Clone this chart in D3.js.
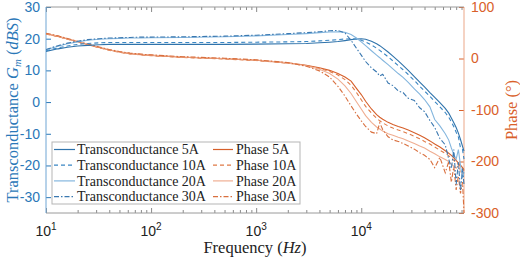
<!DOCTYPE html>
<html><head><meta charset="utf-8">
<script src="https://cdn.jsdelivr.net/npm/d3@7"></script>
<style>html,body{margin:0;padding:0;background:#fff;}</style>
</head><body>
<svg id="c" width="520" height="257"></svg>
<script>
// ---- data ----
const freq = [10,13,16,20,25,32,40,50,63,80,100,200,500,1000,2000,3000,4000,5000,6000,7000,8000,9000,10000,11000,12500,14000,15000,16000,18000,20000,22500,25000,28000,32000,36000,40000,45000,50000,56000,63000,68000,72000,76000,80000,84000,88000,92000,95000];
const gm5  = [16.0,16.8,17.3,17.7,17.9,18.1,18.2,18.2,18.2,18.2,18.2,18.2,18.2,18.3,18.4,18.5,18.7,18.9,19.1,19.4,19.7,19.9,20.0,19.8,19.2,18.4,17.8,17.1,15.8,14.5,13.0,11.6,10.0,8.0,6.3,4.8,3.0,1.5,-0.2,-2.0,-3.5,-5.0,-6.5,-8.0,-9.8,-11.8,-14.0,-15.5];
const gm10 = [16.2,17.1,17.7,18.2,18.5,18.7,18.8,18.8,18.8,18.8,18.8,18.8,18.8,18.9,19.0,19.1,19.3,19.5,19.7,19.9,20.0,19.9,19.5,19.0,18.0,17.0,16.3,15.6,14.3,13.0,11.5,10.2,8.7,6.8,5.0,3.5,1.8,0.2,-1.5,-3.3,-4.8,-6.2,-7.8,-9.5,-11.0,-14.5,-15.0,-18.0];
const gm20 = [16.5,17.6,18.4,19.0,19.5,19.8,20.0,20.1,20.2,20.2,20.3,20.4,20.6,20.9,21.3,21.6,21.9,22.1,22.2,22.0,21.3,20.2,19.0,17.8,16.2,14.8,14.0,13.2,11.8,10.5,9.0,7.8,6.2,4.2,2.5,0.8,-1.5,-5.5,-7.5,-10.0,-12.0,-14.5,-16.5,-18.0,-15.0,-20.0,-24.0,-22.0];
const gm30 = [16.6,17.8,18.6,19.2,19.7,20.0,20.2,20.3,20.4,20.5,20.5,20.6,20.8,21.1,21.6,21.9,22.2,22.5,22.6,21.8,19.5,17.0,14.8,12.8,10.8,9.5,8.2,8.8,6.0,5.2,3.5,3.0,1.2,0.5,-1.8,-3.0,-5.8,-8.0,-11.5,-13.5,-18.0,-21.0,-15.0,-26.0,-19.0,-28.0,-21.0,-26.0];
const ph5  = [48,43,38,32.5,27,21.5,16.5,12.5,9.5,7.5,6,2.5,-0.5,-3.5,-8.5,-13,-18,-23,-29,-36,-44,-58,-70,-83,-98,-109,-114,-118,-124,-128,-132,-135,-139,-144,-149,-154,-160,-166,-172,-179,-184,-188,-193,-198,-203,-207,-212,-216];
const ph10 = [47.5,42.5,37.5,32,26.5,21,16,12,9,7,5.5,2,-1,-4,-9,-14,-19.5,-25,-32,-41,-52,-66,-80,-93,-106,-116,-121,-125,-131,-135,-139,-142,-146,-151,-156,-161,-166,-172,-178,-184,-189,-193,-198,-202,-206,-210,-214,-218];
const ph20 = [48.5,43.5,38.5,33,27.5,22,17,13,10,8,6.5,3,0,-3,-8.5,-14,-21,-29,-40,-53,-68,-84,-98,-111,-124,-133,-137,-141,-146,-149,-153,-156,-160,-165,-170,-174,-180,-185,-191,-196,-200,-205,-209,-213,-208,-220,-224,-222];
const ph30 = [49,44,39,33.5,28,22.5,17.5,13.5,10.5,8.5,7,3.5,0.5,-2.5,-8,-15,-24,-36,-54,-73,-92,-108,-121,-132,-143,-146,-125,-138,-152,-158,-161,-165,-170,-176,-183,-188,-196,-212,-192,-222,-200,-240,-210,-255,-228,-262,-240,-300];
const gmLabels = ["Transconductance 5A","Transconductance 10A","Transconductance 20A","Transconductance 30A"];
const phLabels = ["Phase 5A","Phase 10A","Phase 20A","Phase 30A"];
const xMajor = [10,100,1000,10000];
const xExp = [1,2,3,4];
const yLeftTicks = [-30,-20,-10,0,10,20,30];
const yRightTicks = [-300,-200,-100,0,100];

// ---- layout ----
const L=46, R=464, T=7, B=213;
const svg = d3.select("#c");
const x = d3.scaleLog().domain([10,95000]).range([L,R]);
const yL = d3.scaleLinear().domain([-35,30]).range([B,T]);
const yR = d3.scaleLinear().domain([-300,100]).range([B,T]);
const blue="#2a78b8", orange="#d9602a";
const gmStyles = [
  {c:"#2f73ab", d:null},
  {c:"#3a86c3", d:"4,3"},
  {c:"#84b6de", d:null},
  {c:"#3a78b0", d:"5,2,1.5,2"}];
const phStyles = [
  {c:"#d65f2a", d:null},
  {c:"#e07a46", d:"4,3"},
  {c:"#efae92", d:null},
  {c:"#d9703f", d:"5,2,1.5,2"}];

const minors=[];
for (let e=1;e<=4;e++) for (let k=2;k<=9;k++){const v=k*Math.pow(10,e); if(v<=95000) minors.push(v);}

// x ticks bottom/top
const gx = svg.append("g").attr("transform",`translate(0,${B})`)
  .call(d3.axisBottom(x).tickValues(xMajor).tickSize(-5).tickFormat(""));
const gxm = svg.append("g").attr("transform",`translate(0,${B})`)
  .call(d3.axisBottom(x).tickValues(minors).tickSize(-3).tickFormat(""));
const gxt = svg.append("g").attr("transform",`translate(0,${T})`)
  .call(d3.axisTop(x).tickValues(xMajor).tickSize(-5).tickFormat(""));
const gxtm = svg.append("g").attr("transform",`translate(0,${T})`)
  .call(d3.axisTop(x).tickValues(minors).tickSize(-3).tickFormat(""));
[gx,gxm,gxt,gxtm].forEach(g=>{g.select(".domain").remove(); g.selectAll("line").attr("stroke","#8a8a8a");});

// y left
const gyl = svg.append("g").attr("transform",`translate(${L},0)`)
  .call(d3.axisLeft(yL).tickValues(yLeftTicks).tickSize(-5).tickPadding(6).tickFormat(d=>String(d)));
gyl.select(".domain").remove();
gyl.selectAll("line").attr("stroke",blue);
gyl.selectAll("text").attr("fill",blue).style("font-family","'Liberation Sans',Arial,sans-serif").style("font-size","14px");
// y right
const gyr = svg.append("g").attr("transform",`translate(${R},0)`)
  .call(d3.axisRight(yR).tickValues(yRightTicks).tickSize(-5).tickPadding(7).tickFormat(d=>String(d)));
gyr.select(".domain").remove();
gyr.selectAll("line").attr("stroke",orange);
gyr.selectAll("text").attr("fill",orange).style("font-family","'Liberation Sans',Arial,sans-serif").style("font-size","14px");

// box lines
svg.append("line").attr("x1",L).attr("x2",R).attr("y1",T).attr("y2",T).attr("stroke","#9a9a9a");
svg.append("line").attr("x1",L).attr("x2",R).attr("y1",B).attr("y2",B).attr("stroke","#9a9a9a");
svg.append("line").attr("x1",L).attr("x2",L).attr("y1",T).attr("y2",B).attr("stroke","#6ea5d4");
svg.append("line").attr("x1",R).attr("x2",R).attr("y1",T).attr("y2",B).attr("stroke","#eba788");

// x tick labels
xMajor.forEach((v,i)=>{
  const t = svg.append("text").attr("x",x(v)).attr("y",236).attr("text-anchor","middle")
    .style("font-family","'Liberation Sans',Arial,sans-serif").style("font-size","14px").attr("fill","#222");
  t.append("tspan").text("10");
  t.append("tspan").attr("dy",-6).style("font-size","10px").text(String(xExp[i]));
});

// curves
const clip = svg.append("clipPath").attr("id","pc").append("rect").attr("x",L).attr("y",T-1).attr("width",R-L+1).attr("height",B-T+2);
const plot = svg.append("g").attr("clip-path","url(#pc)");
const gmSeries=[gm5,gm10,gm20,gm30], phSeries=[ph5,ph10,ph20,ph30];
const lineL = d3.line().x(d=>x(d[0])).y(d=>yL(d[1]));
const lineR = d3.line().x(d=>x(d[0])).y(d=>yR(d[1]));
phSeries.forEach((s,i)=>{
  plot.append("path").attr("d",lineR(freq.map((f,j)=>[f,s[j]]))).attr("fill","none")
   .attr("stroke",phStyles[i].c).attr("stroke-width",1.1).attr("stroke-dasharray",phStyles[i].d);
});
gmSeries.forEach((s,i)=>{
  plot.append("path").attr("d",lineL(freq.map((f,j)=>[f,s[j]]))).attr("fill","none")
   .attr("stroke",gmStyles[i].c).attr("stroke-width",1.1).attr("stroke-dasharray",gmStyles[i].d);
});

// axis labels
const serif="'Liberation Serif','Times New Roman',serif";
const yl = svg.append("text").attr("transform",`translate(18,${(T+B)/2}) rotate(-90)`).attr("text-anchor","middle")
  .style("font-family",serif).style("font-size","16.5px").attr("fill",blue);
yl.append("tspan").text("Transconductance ");
yl.append("tspan").style("font-style","italic").text("G");
yl.append("tspan").attr("dy",3).style("font-size","11px").style("font-style","italic").text("m");
yl.append("tspan").attr("dy",-3).text(" (");
yl.append("tspan").style("font-style","italic").text("dBS");
yl.append("tspan").text(")");

const yr = svg.append("text").attr("transform",`translate(517,${(T+B)/2}) rotate(-90)`).attr("text-anchor","middle")
  .style("font-family",serif).style("font-size","16.5px").attr("fill",orange);
yr.append("tspan").text("Phase (°)");

const xl = svg.append("text").attr("x",(L+R)/2).attr("y",253).attr("text-anchor","middle")
  .style("font-family",serif).style("font-size","16.5px").attr("fill","#222");
xl.append("tspan").text("Frequency (");
xl.append("tspan").style("font-style","italic").text("Hz");
xl.append("tspan").text(")");

// legend
const lg = svg.append("g");
lg.append("rect").attr("x",52).attr("y",142).attr("width",248).attr("height",62).attr("fill","#fff").attr("stroke","#b5b5b5");
gmLabels.forEach((lab,i)=>{
  const yy = 149.5 + i*15.7;
  lg.append("line").attr("x1",54).attr("x2",75).attr("y1",yy).attr("y2",yy).attr("stroke",gmStyles[i].c).attr("stroke-width",1.2).attr("stroke-dasharray",gmStyles[i].d);
  lg.append("text").attr("x",77).attr("y",yy+4.8).style("font-family",serif).style("font-size","14px").attr("fill","#222").text(lab);
  lg.append("line").attr("x1",213).attr("x2",233).attr("y1",yy).attr("y2",yy).attr("stroke",phStyles[i].c).attr("stroke-width",1.2).attr("stroke-dasharray",phStyles[i].d);
  lg.append("text").attr("x",236).attr("y",yy+4.8).style("font-family",serif).style("font-size","14px").attr("fill","#222").text(phLabels[i]);
});
</script>
</body></html>
